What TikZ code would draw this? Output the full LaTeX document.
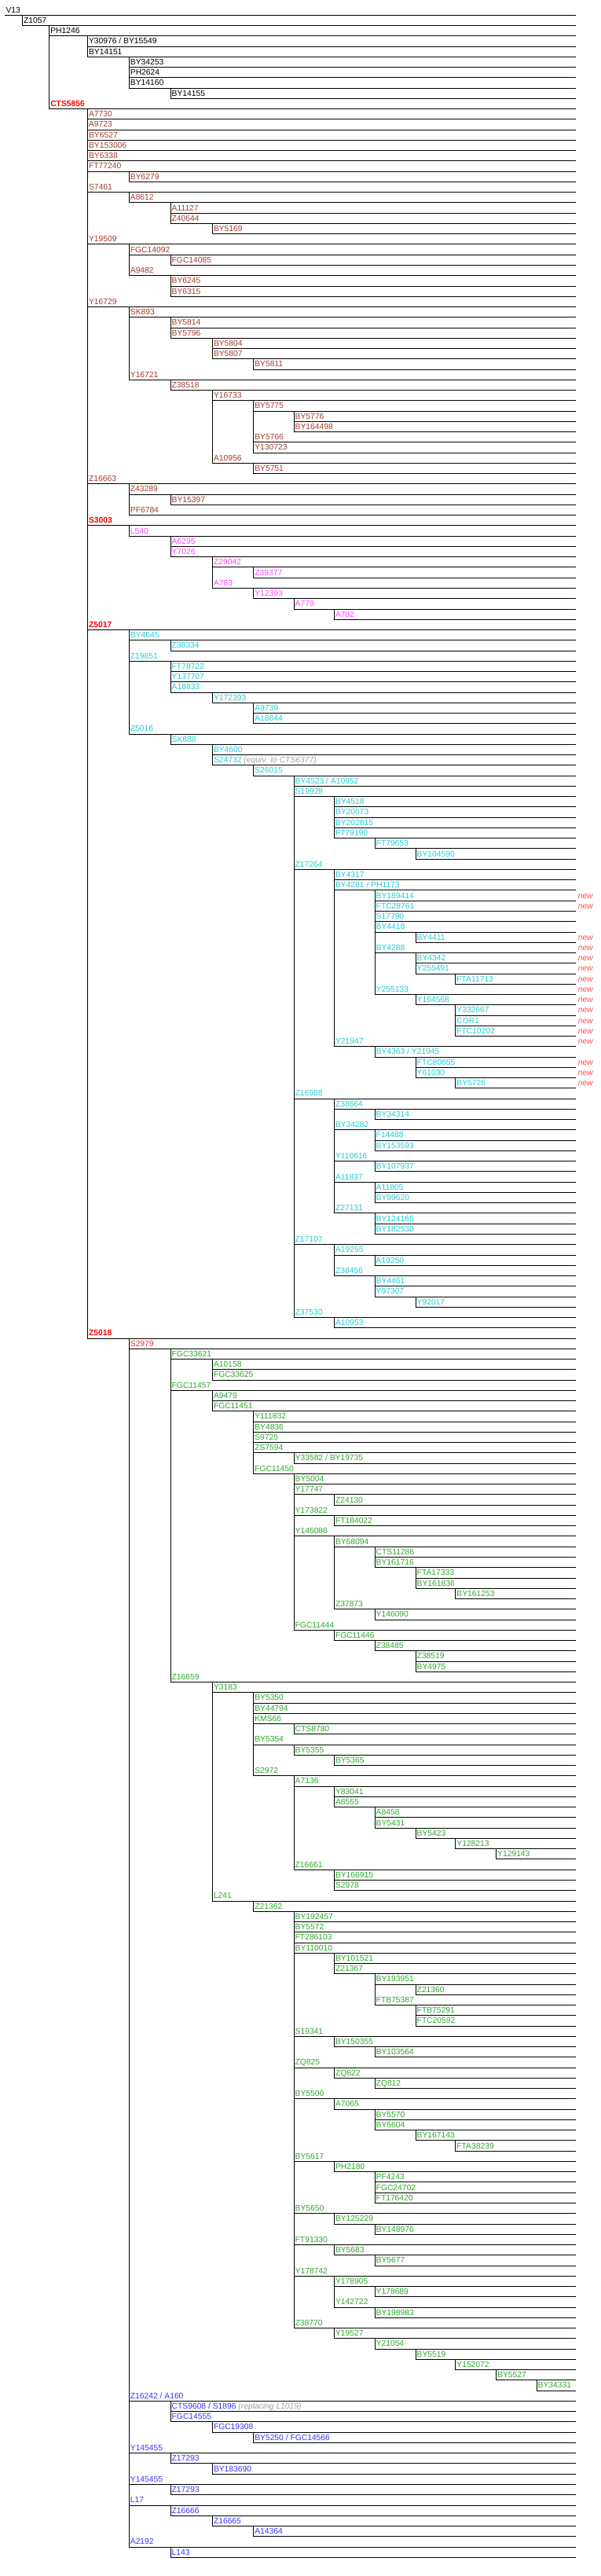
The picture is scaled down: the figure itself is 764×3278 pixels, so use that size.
\documentclass[tikz,border=0pt]{standalone}
\usepackage{fontspec}
\setmainfont{Liberation Sans}

\definecolor{hgbrowncol}{HTML}{A33D2A}
\definecolor{hgpinkcol}{HTML}{FF44FF}
\definecolor{hgcyancol}{HTML}{22CCD4}
\definecolor{hggreencol}{HTML}{2DA82D}
\definecolor{hgbluecol}{HTML}{3535FF}
\definecolor{hgredcol}{HTML}{FF0000}
\definecolor{hgnewcol}{HTML}{FF4D4D}
\definecolor{hgnotecol}{HTML}{A0A0A0}

\tikzset{
  hglabel/.style={inner sep=0pt,anchor=base west,xshift=1.5pt,yshift=3.2pt,
    font=\fontsize{10.3}{12}\selectfont},
  hgline/.style={line width=1pt},
  hgblack/.style={text=black},
  hgkey/.style={text=hgredcol,font=\fontsize{10.3}{12}\selectfont\bfseries},
  hgred/.style={text=hgredcol!85!white},
  hgbrown/.style={text=hgbrowncol},
  hgpink/.style={text=hgpinkcol},
  hgcyan/.style={text=hgcyancol},
  hggreen/.style={text=hggreencol},
  hgblue/.style={text=hgbluecol},
  hgnewtag/.style={inner sep=0pt,anchor=base west,xshift=2.6pt,yshift=3.2pt,
    text=hgnewcol,font=\fontsize{10.3}{12}\selectfont\itshape}
}

\newcounter{hgrow}
\newcommand\hglx[1]{\ifcase#1 5.9\or 28.4\or 62.6\or 111.4\or 164.2\or 217\or 270.3\or 322.6\or 374\or 425.3\or 477\or 529\or 579.7\or 631.5\or 683\fi}
\newcommand\hgrow[3]{%
  \stepcounter{hgrow}%
  \edef\hgy{\fpeval{19.3+(\thehgrow-1)*13.258}}%
  \edef\hgx{\hglx{#1}}%
  \coordinate (r\thehgrow) at (\hgx,\hgy);
  \node[hglabel,#2] (t\thehgrow) at (r\thehgrow) {#3};
  \ifcsname hgtop#1\endcsname
    \edef\hgup{\csname hgtop#1\endcsname}%
  \else
    \edef\hgup{r\thehgrow}%
  \fi
  \draw[hgline] (r\thehgrow |- \hgup) -- (r\thehgrow) -- (r\thehgrow -| redge);
  \foreach \m in {#1,...,14}{\expandafter\xdef\csname hgtop\m\endcsname{r\thehgrow}}%
}
\newcommand\hgnew{\node[hgnewtag] (n\thehgrow) at (r\thehgrow -| redge) {new};}
\newcommand\hgnote[1]{\textcolor{hgnotecol}{\itshape #1}}

\begin{document}
\begin{tikzpicture}[x=1pt,y=-1pt]
\useasboundingbox[fill=white] (0,0) rectangle (764,3278);
\coordinate (redge) at (733,0);

\hgrow{0}{hgblack}{V13}
\hgrow{1}{hgblack}{Z1057}
\hgrow{2}{hgblack}{PH1246}
\hgrow{3}{hgblack}{Y30976 / BY15549}
\hgrow{3}{hgblack}{BY14151}
\hgrow{4}{hgblack}{BY34253}
\hgrow{4}{hgblack}{PH2624}
\hgrow{4}{hgblack}{BY14160}
\hgrow{5}{hgblack}{BY14155}
\hgrow{2}{hgkey}{CTS5856}
\hgrow{3}{hgbrown}{A7730}
\hgrow{3}{hgbrown}{A9723}
\hgrow{3}{hgbrown}{BY6527}
\hgrow{3}{hgbrown}{BY153006}
\hgrow{3}{hgbrown}{BY6338}
\hgrow{3}{hgbrown}{FT77240}
\hgrow{4}{hgbrown}{BY6279}
\hgrow{3}{hgbrown}{S7461}
\hgrow{4}{hgbrown}{A8612}
\hgrow{5}{hgbrown}{A11127}
\hgrow{5}{hgbrown}{Z40644}
\hgrow{6}{hgbrown}{BY5169}
\hgrow{3}{hgbrown}{Y19509}
\hgrow{4}{hgbrown}{FGC14092}
\hgrow{5}{hgbrown}{FGC14085}
\hgrow{4}{hgbrown}{A9482}
\hgrow{5}{hgbrown}{BY6245}
\hgrow{5}{hgbrown}{BY6315}
\hgrow{3}{hgbrown}{Y16729}
\hgrow{4}{hgbrown}{SK893}
\hgrow{5}{hgbrown}{BY5814}
\hgrow{5}{hgbrown}{BY5796}
\hgrow{6}{hgbrown}{BY5804}
\hgrow{6}{hgbrown}{BY5807}
\hgrow{7}{hgbrown}{BY5811}
\hgrow{4}{hgbrown}{Y16721}
\hgrow{5}{hgbrown}{Z38518}
\hgrow{6}{hgbrown}{Y16733}
\hgrow{7}{hgbrown}{BY5775}
\hgrow{8}{hgbrown}{BY5776}
\hgrow{8}{hgbrown}{BY164498}
\hgrow{7}{hgbrown}{BY5766}
\hgrow{7}{hgbrown}{Y130723}
\hgrow{6}{hgbrown}{A10956}
\hgrow{7}{hgbrown}{BY5751}
\hgrow{3}{hgbrown}{Z16663}
\hgrow{4}{hgbrown}{Z43289}
\hgrow{5}{hgbrown}{BY15397}
\hgrow{4}{hgbrown}{PF6784}
\hgrow{3}{hgkey}{S3003}
\hgrow{4}{hgpink}{L540}
\hgrow{5}{hgpink}{A6295}
\hgrow{5}{hgpink}{Y7026}
\hgrow{6}{hgpink}{Z29042}
\hgrow{7}{hgpink}{Z39377}
\hgrow{6}{hgpink}{A783}
\hgrow{7}{hgpink}{Y12393}
\hgrow{8}{hgpink}{A779}
\hgrow{9}{hgpink}{A782}
\hgrow{3}{hgkey}{Z5017}
\hgrow{4}{hgcyan}{BY4645}
\hgrow{5}{hgcyan}{Z38334}
\hgrow{4}{hgcyan}{Z19851}
\hgrow{5}{hgcyan}{FT78722}
\hgrow{5}{hgcyan}{Y137707}
\hgrow{5}{hgcyan}{A18833}
\hgrow{6}{hgcyan}{Y172393}
\hgrow{7}{hgcyan}{A9739}
\hgrow{7}{hgcyan}{A18844}
\hgrow{4}{hgcyan}{Z5016}
\hgrow{5}{hgcyan}{SK888}
\hgrow{6}{hgcyan}{BY4600}
\hgrow{6}{hgcyan}{S24732 \hgnote{(equiv. to CTS6377)}}
\hgrow{7}{hgcyan}{S26015}
\hgrow{8}{hgcyan}{BY4523 / A10952}
\hgrow{8}{hgcyan}{S19928}
\hgrow{9}{hgcyan}{BY4518}
\hgrow{9}{hgcyan}{BY20073}
\hgrow{9}{hgcyan}{BY202815}
\hgrow{9}{hgcyan}{FT79190}
\hgrow{10}{hgcyan}{FT79653}
\hgrow{11}{hgcyan}{BY104590}
\hgrow{8}{hgcyan}{Z17264}
\hgrow{9}{hgcyan}{BY4317}
\hgrow{9}{hgcyan}{BY4281 / PH1173}
\hgrow{10}{hgcyan}{BY189414}\hgnew
\hgrow{10}{hgcyan}{FTC28761}\hgnew
\hgrow{10}{hgcyan}{S17790}
\hgrow{10}{hgcyan}{BY4418}
\hgrow{11}{hgcyan}{BY4411}\hgnew
\hgrow{10}{hgcyan}{BY4288}\hgnew
\hgrow{11}{hgcyan}{BY4342}\hgnew
\hgrow{11}{hgcyan}{Y255491}\hgnew
\hgrow{12}{hgcyan}{FTA11713}\hgnew
\hgrow{10}{hgcyan}{Y255133}\hgnew
\hgrow{11}{hgcyan}{Y164568}\hgnew
\hgrow{12}{hgcyan}{Y332667}\hgnew
\hgrow{12}{hgcyan}{COR1}\hgnew
\hgrow{12}{hgcyan}{FTC10202}\hgnew
\hgrow{9}{hgcyan}{Y21947}\hgnew
\hgrow{10}{hgcyan}{BY4363 / Y21945}
\hgrow{11}{hgcyan}{FTC80655}\hgnew
\hgrow{11}{hgcyan}{Y61030}\hgnew
\hgrow{12}{hgcyan}{BY5726}\hgnew
\hgrow{8}{hgcyan}{Z16988}
\hgrow{9}{hgcyan}{Z38664}
\hgrow{10}{hgcyan}{BY34314}
\hgrow{9}{hgcyan}{BY34282}
\hgrow{10}{hgcyan}{F14488}
\hgrow{10}{hgcyan}{BY153593}
\hgrow{9}{hgcyan}{Y110616}
\hgrow{10}{hgcyan}{BY107937}
\hgrow{9}{hgcyan}{A11837}
\hgrow{10}{hgcyan}{A11805}
\hgrow{10}{hgcyan}{BY99620}
\hgrow{9}{hgcyan}{Z27131}
\hgrow{10}{hgcyan}{BY124165}
\hgrow{10}{hgcyan}{BY182530}
\hgrow{8}{hgcyan}{Z17107}
\hgrow{9}{hgcyan}{A19255}
\hgrow{10}{hgcyan}{A19250}
\hgrow{9}{hgcyan}{Z38456}
\hgrow{10}{hgcyan}{BY4461}
\hgrow{10}{hgcyan}{Y97307}
\hgrow{11}{hgcyan}{Y92017}
\hgrow{8}{hgcyan}{Z37530}
\hgrow{9}{hgcyan}{A10953}
\hgrow{3}{hgkey}{Z5018}
\hgrow{4}{hgred}{S2979}
\hgrow{5}{hggreen}{FGC33621}
\hgrow{6}{hggreen}{A10158}
\hgrow{6}{hggreen}{FGC33625}
\hgrow{5}{hggreen}{FGC11457}
\hgrow{6}{hggreen}{A9479}
\hgrow{6}{hggreen}{FGC11451}
\hgrow{7}{hggreen}{Y111832}
\hgrow{7}{hggreen}{BY4836}
\hgrow{7}{hggreen}{S9725}
\hgrow{7}{hggreen}{ZS7594}
\hgrow{8}{hggreen}{Y33582 / BY19735}
\hgrow{7}{hggreen}{FGC11450}
\hgrow{8}{hggreen}{BY5004}
\hgrow{8}{hggreen}{Y17747}
\hgrow{9}{hggreen}{Z24130}
\hgrow{8}{hggreen}{Y173822}
\hgrow{9}{hggreen}{FT184022}
\hgrow{8}{hggreen}{Y146086}
\hgrow{9}{hggreen}{BY68094}
\hgrow{10}{hggreen}{CTS11286}
\hgrow{10}{hggreen}{BY161716}
\hgrow{11}{hggreen}{FTA17333}
\hgrow{11}{hggreen}{BY161836}
\hgrow{12}{hggreen}{BY161253}
\hgrow{9}{hggreen}{Z37873}
\hgrow{10}{hggreen}{Y146090}
\hgrow{8}{hggreen}{FGC11444}
\hgrow{9}{hggreen}{FGC11446}
\hgrow{10}{hggreen}{Z38485}
\hgrow{11}{hggreen}{Z38519}
\hgrow{11}{hggreen}{BY4975}
\hgrow{5}{hggreen}{Z16659}
\hgrow{6}{hggreen}{Y3183}
\hgrow{7}{hggreen}{BY5350}
\hgrow{7}{hggreen}{BY44794}
\hgrow{7}{hggreen}{KMS66}
\hgrow{8}{hggreen}{CTS8780}
\hgrow{7}{hggreen}{BY5354}
\hgrow{8}{hggreen}{BY5355}
\hgrow{9}{hggreen}{BY5365}
\hgrow{7}{hggreen}{S2972}
\hgrow{8}{hggreen}{A7136}
\hgrow{9}{hggreen}{Y83041}
\hgrow{9}{hggreen}{A8555}
\hgrow{10}{hggreen}{A8458}
\hgrow{10}{hggreen}{BY5431}
\hgrow{11}{hggreen}{BY5423}
\hgrow{12}{hggreen}{Y128213}
\hgrow{13}{hggreen}{Y129143}
\hgrow{8}{hggreen}{Z16661}
\hgrow{9}{hggreen}{BY166915}
\hgrow{9}{hggreen}{S2978}
\hgrow{6}{hggreen}{L241}
\hgrow{7}{hggreen}{Z21362}
\hgrow{8}{hggreen}{BY192457}
\hgrow{8}{hggreen}{BY5572}
\hgrow{8}{hggreen}{FT286103}
\hgrow{8}{hggreen}{BY110010}
\hgrow{9}{hggreen}{BY101521}
\hgrow{9}{hggreen}{Z21367}
\hgrow{10}{hggreen}{BY193951}
\hgrow{11}{hggreen}{Z21360}
\hgrow{10}{hggreen}{FTB75387}
\hgrow{11}{hggreen}{FTB75291}
\hgrow{11}{hggreen}{FTC20592}
\hgrow{8}{hggreen}{S19341}
\hgrow{9}{hggreen}{BY150355}
\hgrow{10}{hggreen}{BY103564}
\hgrow{8}{hggreen}{ZQ825}
\hgrow{9}{hggreen}{ZQ822}
\hgrow{10}{hggreen}{ZQ812}
\hgrow{8}{hggreen}{BY5500}
\hgrow{9}{hggreen}{A7065}
\hgrow{10}{hggreen}{BY5570}
\hgrow{10}{hggreen}{BY5604}
\hgrow{11}{hggreen}{BY167143}
\hgrow{12}{hggreen}{FTA38239}
\hgrow{8}{hggreen}{BY5617}
\hgrow{9}{hggreen}{PH2180}
\hgrow{10}{hggreen}{PF4243}
\hgrow{10}{hggreen}{FGC24702}
\hgrow{10}{hggreen}{FT176420}
\hgrow{8}{hggreen}{BY5650}
\hgrow{9}{hggreen}{BY125229}
\hgrow{10}{hggreen}{BY148976}
\hgrow{8}{hggreen}{FT91330}
\hgrow{9}{hggreen}{BY5683}
\hgrow{10}{hggreen}{BY5677}
\hgrow{8}{hggreen}{Y178742}
\hgrow{9}{hggreen}{Y178905}
\hgrow{10}{hggreen}{Y178689}
\hgrow{9}{hggreen}{Y142722}
\hgrow{10}{hggreen}{BY198983}
\hgrow{8}{hggreen}{Z38770}
\hgrow{9}{hggreen}{Y19527}
\hgrow{10}{hggreen}{Y21054}
\hgrow{11}{hggreen}{BY5519}
\hgrow{12}{hggreen}{Y152072}
\hgrow{13}{hggreen}{BY5527}
\hgrow{14}{hggreen}{BY34331}
\hgrow{4}{hgblue}{Z16242 / A160}
\hgrow{5}{hgblue}{CTS9608 / S1896 \hgnote{(replacing L1019)}}
\hgrow{5}{hgblue}{FGC14555}
\hgrow{6}{hgblue}{FGC19308}
\hgrow{7}{hgblue}{BY5250 / FGC14566}
\hgrow{4}{hgblue}{Y145455}
\hgrow{5}{hgblue}{Z17293}
\hgrow{6}{hgblue}{BY183690}
\hgrow{4}{hgblue}{Y145455}
\hgrow{5}{hgblue}{Z17293}
\hgrow{4}{hgblue}{L17}
\hgrow{5}{hgblue}{Z16666}
\hgrow{6}{hgblue}{Z16665}
\hgrow{7}{hgblue}{A14364}
\hgrow{4}{hgblue}{A2192}
\hgrow{5}{hgblue}{L143}
\end{tikzpicture}
\end{document}
